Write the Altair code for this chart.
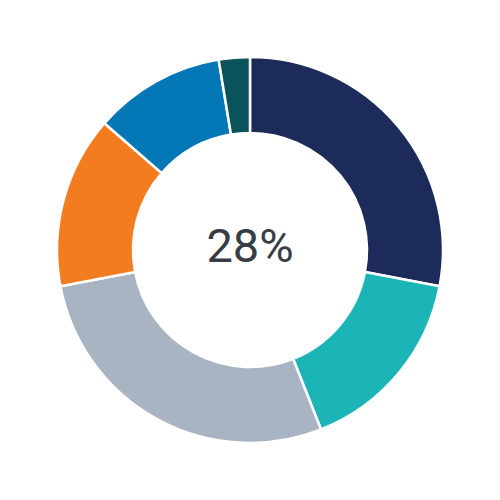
import altair as alt
import pandas as pd

categories = ["A", "B", "C", "D", "E", "F"]
values = [28, 16, 28, 14.4, 11, 2.6]
colors = ["#1c2b5a", "#1bb5b8", "#a9b4c2", "#f47c20", "#0477b7", "#08545a"]
center_label = ["28%"]

df = pd.DataFrame({"cat": categories, "value": values, "idx": list(range(len(categories)))})

arc = alt.Chart(df).mark_arc(innerRadius=117, outerRadius=193, stroke="white", strokeWidth=2.5).encode(
    theta=alt.Theta("value:Q", stack=True),
    color=alt.Color("cat:N", scale=alt.Scale(domain=categories, range=colors), legend=None),
    order=alt.Order("idx:Q"),
)

text = alt.Chart(pd.DataFrame({"t": center_label})).mark_text(
    font="Roboto", fontSize=47, color="#373d45", baseline="middle", align="center"
).encode(text="t:N", x=alt.value(242), y=alt.value(240))

chart = alt.layer(arc, text).properties(width=484, height=484, padding=0, autosize="none").configure_view(stroke=None)

chart.save("out.html", embed_options={"renderer": "svg", "actions": False})
